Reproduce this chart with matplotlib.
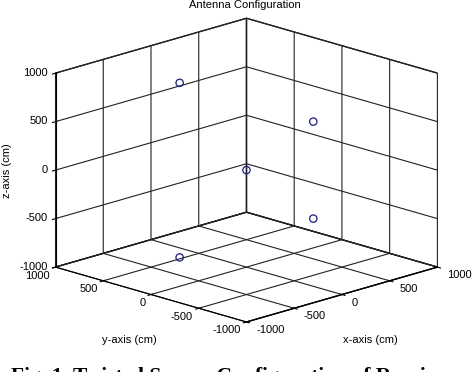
import matplotlib
matplotlib.use('Agg')
import matplotlib.pyplot as plt

plt.rcParams['font.family'] = ['Liberation Sans', 'DejaVu Sans']
plt.rcParams['axes.unicode_minus'] = False

# antenna positions (cm)
x_pos = [-350, 350, 0, 350, -350]
y_pos = [350, -350, 0, -350, 350]
z_pos = [900, 500, 0, -500, -900]

ticks = [-1000, -500, 0, 500, 1000]
tick_labels = ['-1000', '-500', '0', '500', '1000']

fig = plt.figure(figsize=(4.74, 3.72), dpi=100)
ax = fig.add_axes([0.01, 0.06, 1.0, 0.94], projection='3d', proj_type='ortho')
ax.view_init(elev=16.7, azim=-135)
ax.set_box_aspect((4, 4, 3), zoom=1.2)

ax.scatter(x_pos, y_pos, z_pos, s=28, facecolors='none', edgecolors='#1a1a80',
           linewidths=0.9, depthshade=False)

ax.set_xlim(-1000, 1000)
ax.set_ylim(-1000, 1000)
ax.set_zlim(-1000, 1000)
ax.set_xticks(ticks)
ax.set_yticks(ticks)
ax.set_zticks(ticks)

for axis in (ax.xaxis, ax.yaxis, ax.zaxis):
    axis.set_pane_color((1, 1, 1, 1))
    axis._axinfo['grid'].update(color='#222222', linewidth=0.8, linestyle='-')
    axis._axinfo['axisline']['color'] = 'black'
    axis.pane.set_edgecolor('#222222')
    axis.set_major_formatter(plt.NullFormatter())
    axis.set_tick_params(label1On=False, label2On=False)

# tick labels placed MATLAB-style beside the box edges
for t, lab in zip(ticks, tick_labels):
    ax.text(t, -1100, -1055, lab, ha='left', va='center', fontsize=8)
    ax.text(-1060, t, -1070, lab, ha='right', va='center', fontsize=8)
    ax.text(-1000, 1080, t - 20, lab, ha='right', va='center', fontsize=8)

# axis labels
fig.text(129 / 474, 1 - 340 / 372, 'y-axis (cm)', ha='center', va='center', fontsize=8)
fig.text(370 / 474, 1 - 340 / 372, 'x-axis (cm)', ha='center', va='center', fontsize=8)
fig.text(7.5 / 474, 1 - 171 / 372, 'z-axis (cm)', rotation=90, ha='center',
         va='center', fontsize=8)

fig.text(245 / 474, 1 - 5 / 372, 'Antenna Configuration', ha='center', va='center',
         fontsize=8)

fig.text(0.5, 1 - 367 / 372, 'Fig. 1. Twisted Sensor Configuration of Receivers',
         ha='center', va='top', fontsize=15.5, fontweight='bold',
         family='Liberation Serif')

fig.savefig('out.png', dpi=100)
